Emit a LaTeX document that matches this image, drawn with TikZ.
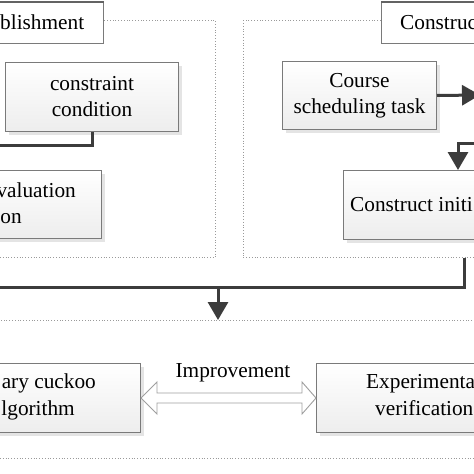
\documentclass[tikz,border=0pt]{standalone}
\usepackage{fontspec}
\setmainfont{Liberation Serif}
\usetikzlibrary{arrows.meta,shadows,calc}
\definecolor{linec}{HTML}{3C3C3C}
\definecolor{boxborder}{HTML}{7A7A7A}
\definecolor{dotc}{HTML}{9A9A9A}
\begin{document}
\begin{tikzpicture}[x=1pt,y=-1pt,
  box/.style={draw=boxborder, line width=1pt, top color=white, bottom color=gray!14,
    drop shadow={shadow xshift=3pt,shadow yshift=-3pt,fill=gray!35,opacity=0.6},
    inner sep=0pt, anchor=north west, align=center, font=\fontsize{21.3}{26}\selectfont},
  titlebox/.style={draw=boxborder, line width=1pt, fill=white, inner sep=0pt, anchor=north west},
  group/.style={draw=dotc, line width=0.8pt, dotted, anchor=north west, inner sep=0pt},
  txt/.style={inner sep=0pt, font=\fontsize{21.3}{26}\selectfont},
  conn/.style={draw=linec, line width=3pt},
  arr/.style={conn, -{Triangle[length=18pt,width=20pt]}},
]
\useasboundingbox (0,0) rectangle (474,474);
\fill[white] (0,0) rectangle (474,474);
\clip (0,0) rectangle (474,474);

% dotted groups
\node[group, minimum width=235pt, minimum height=237pt] (gL) at (-20,20) {};
\node[group, minimum width=317pt, minimum height=237pt] (gR) at (243,20) {};
\node[group, minimum width=580pt, minimum height=138pt] (gB) at (-20,320) {};

% title boxes
\node[titlebox, minimum width=163pt, minimum height=41.5pt] (tL) at (-60,1.5) {};
\node[titlebox, minimum width=160pt, minimum height=41.5pt] (tR) at (381,1.5) {};
\draw[linec!80, line width=2pt] (tL.north west) -- (tL.north east);
\draw[linec!80, line width=2pt] (tR.north west) -- (tR.north east);
\node[txt, anchor=base west] (tLt) at (0,29) {blishment};
\node[txt, anchor=base west] (tRt) at (400,29) {Construc};

% boxes
\node[box, minimum width=173pt, minimum height=69pt] (cons) at (5,62) {constraint\\condition};
\node[box, minimum width=161pt, minimum height=68pt] (val) at (-60,170) {};
\node[box, minimum width=154pt, minimum height=68pt] (course) at (282,61) {Course\\scheduling task};
\node[box, minimum width=200pt, minimum height=69pt] (init) at (343,170) {};
\node[box, minimum width=200pt, minimum height=69pt] (alg) at (-60,363) {};
\node[box, minimum width=220pt, minimum height=69pt] (exp) at (316,363) {};

% partial texts
\node[txt, anchor=base east] (valt1) at (76,197) {valuation};
\node[txt, anchor=base east] (valt2) at (22,223) {on};
\node[txt, anchor=base west] (initt) at (350,211) {Construct initi};
\node[txt, anchor=base east] (algt1) at (96,388) {ary cuckoo};
\node[txt, anchor=base east] (algt2) at (75,415) {lgorithm};
\node[txt, anchor=base west] (expt1) at (366,388) {Experimenta};
\node[txt, anchor=base west] (expt2) at (375,415) {verification};
\node[txt, anchor=base] (impt) at (233,377) {Improvement};

% connectors
\coordinate (c1) at (-5,145);
\draw[conn] (cons.south) |- (c1);
\coordinate (c2) at (480,95);
\draw[arr] (course.east) -- (c2);
\coordinate (c3) at (480,143);
\draw[arr] (c3) -| ($(init.north west)+(115,0)$);
\coordinate (c5) at (-5,287);
\draw[conn] ($(gR.south west)+(221,0)$) |- (c5);
\coordinate (j) at (218,287);
\draw[arr] (j) -- (j |- gB.north);

% hollow double arrow
\draw[draw=gray!75, line width=0.9pt, fill=white]
  (alg.east) -- ++(16,-16) -- ++(0,11) -- ($(exp.west)+(-14,-5)$) -- ++(0,-11)
  -- (exp.west) -- ++(-14,16) -- ++(0,-11) -- ($(alg.east)+(16,5)$) -- ++(0,11) -- cycle;
\end{tikzpicture}
\end{document}
